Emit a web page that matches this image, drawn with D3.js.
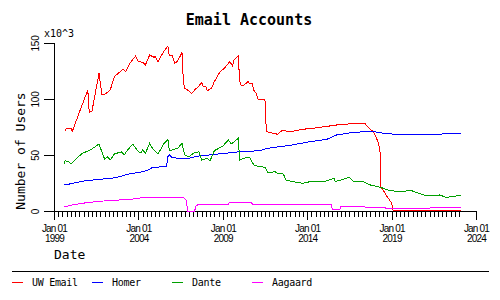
<!DOCTYPE html>
<html lang="en">
<head>
    <meta charset="UTF-8">
    <title>Email Accounts</title>
    <script src="https://d3js.org/d3.v7.min.js"></script>
    <style>
        body { margin: 0; background: #fff; }
        svg { display: block; font-family: "DejaVu Sans Mono", monospace; }
        .axis path, .axis line { stroke: #000; shape-rendering: crispEdges; }
        .series { fill: none; stroke-width: 1px; shape-rendering: crispEdges; }
    </style>
</head>
<body>
    <svg width="500" height="300"></svg>
    <script>
        // Values in thousands of users, one point per reading off the chart
        const uwEmail = [
            ["1999-09", 72], ["1999-10", 74], ["2000-01", 74], ["2000-02", 71],
            ["2000-07", 88], ["2001-01", 108], ["2001-02", 88], ["2001-04", 89],
            ["2001-09", 123], ["2001-11", 104], ["2002-01", 104], ["2002-05", 108],
            ["2002-08", 120], ["2003-02", 126.5], ["2003-04", 124.4], ["2003-07", 132],
            ["2003-11", 138.4], ["2004-01", 133.3], ["2004-04", 132.8], ["2004-06", 130.4],
            ["2004-09", 139.3], ["2004-12", 137.3], ["2005-01", 137.8], ["2005-03", 133.3],
            ["2005-07", 142.3], ["2005-10", 147.3], ["2005-11", 138.4], ["2006-01", 138.4],
            ["2006-03", 131.9], ["2006-05", 134], ["2006-08", 141.4], ["2006-09", 115],
            ["2006-10", 109.6], ["2007-01", 107.1], ["2007-03", 105], ["2007-05", 108],
            ["2007-08", 111.6], ["2007-10", 114.6], ["2007-11", 111.6], ["2008-01", 111],
            ["2008-02", 107.4], ["2008-05", 109.6], ["2008-07", 115.5], ["2008-11", 124.4],
            ["2009-02", 127.4], ["2009-06", 133.3], ["2009-08", 129.5], ["2009-09", 134.8],
            ["2009-12", 138.4], ["2010-01", 115.5], ["2010-02", 112.5], ["2010-04", 112.5],
            ["2010-07", 115.5], ["2010-08", 113.4], ["2010-10", 113.4], ["2010-11", 108],
            ["2011-01", 104.5], ["2011-02", 99.7], ["2011-07", 99.7], ["2011-08", 70.8],
            ["2012-01", 69.4], ["2012-04", 68.5], ["2012-07", 71.7], ["2012-09", 71.7],
            ["2013-01", 70.8], ["2013-10", 73], ["2014-05", 73.8], ["2014-10", 74.7],
            ["2015-05", 75.9], ["2015-10", 76.8], ["2016-05", 76.8], ["2016-07", 78.3],
            ["2016-12", 77.7], ["2017-06", 78.3], ["2017-07", 76.8], ["2017-09", 73.8],
            ["2017-12", 70.8], ["2018-02", 66], ["2018-04", 59], ["2018-05", 51.5],
            ["2018-05-10", 21.7], ["2018-07", 18.8], ["2018-09", 14.3], ["2018-12", 8.9],
            ["2019-01", 6.9], ["2019-02", 0.5], ["2023-02", 0.5]
        ];
        const homer = [
            ["1999-08", 24.1], ["1999-09", 23.2], ["2000-02", 24.7], ["2000-12", 27.1],
            ["2001-12", 28.6], ["2002-09", 29.7], ["2003-06", 33], ["2004-04", 35.1],
            ["2004-09", 37.2], ["2004-11", 39], ["2005-09", 39.6], ["2005-10", 48.5],
            ["2005-11", 50], ["2006-01", 47.6], ["2006-06", 47.1], ["2007-01", 47.1],
            ["2007-08", 49.1], ["2008-10", 50.9], ["2010-01", 52.9], ["2011-03", 53.8],
            ["2011-09", 56], ["2012-05", 57.4], ["2012-12", 58.5], ["2013-06", 59.8],
            ["2014-03", 61.9], ["2015-03", 64], ["2015-10", 67.9], ["2016-08", 69.9],
            ["2017-05", 70.8], ["2017-10", 71.4], ["2018-07", 69.4], ["2019-09", 67.9],
            ["2020-12", 67.9], ["2022-02", 68.8], ["2023-02", 69.4]
        ];
        const dante = [
            ["1999-08", 41.7], ["1999-09", 44.9], ["1999-12", 43.5], ["2000-01", 42],
            ["2000-09", 51.5], ["2001-03", 54.5], ["2001-09", 59.8], ["2002-01", 46.2],
            ["2002-03", 48.5], ["2002-05", 45.5], ["2002-08", 50.9], ["2003-01", 52.9],
            ["2003-03", 50], ["2003-05", 53.8], ["2003-09", 59.8], ["2004-01", 52.9],
            ["2004-03", 52], ["2004-04", 54.5], ["2004-06", 51.5], ["2004-09", 60.4],
            ["2004-11", 56], ["2005-03", 50.9], ["2005-07", 59.8], ["2005-10", 64],
            ["2005-11", 53.8], ["2006-01", 54.5], ["2006-05", 56], ["2006-08", 60.4],
            ["2006-10", 50], ["2007-01", 48.5], ["2007-04", 51.5], ["2007-08", 52.9],
            ["2007-10", 45.5], ["2008-02", 47.1], ["2008-04", 44.9], ["2008-07", 53.8],
            ["2009-01", 58], ["2009-05", 63.4], ["2009-07", 59.8], ["2009-10", 62.8],
            ["2009-12", 64.9], ["2010-01", 45.5], ["2010-04", 47.1], ["2010-08", 48],
            ["2010-11", 41.1], ["2011-01", 40.2], ["2011-07", 39], ["2011-09", 34.2],
            ["2012-02", 35.1], ["2012-04", 33.7], ["2012-08", 33], ["2012-10", 27.7],
            ["2013-03", 26.2], ["2013-10", 24.7], ["2014-05", 26.8], ["2015-01", 26.2],
            ["2015-08", 29.2], ["2015-09", 26.2], ["2016-07", 30.1], ["2016-10", 26.2],
            ["2017-05", 26.2], ["2017-10", 23.2], ["2018-05", 21.2], ["2018-12", 18.1],
            ["2019-09", 17.2], ["2020-02", 18.8], ["2020-07", 16.3], ["2021-02", 13.4],
            ["2021-11", 14.3], ["2022-04", 12.2], ["2023-02", 14]
        ];
        const aagaard = [
            ["1999-08", 3.9], ["1999-11", 4.5], ["2000-02", 5.4], ["2000-12", 7.4],
            ["2001-12", 8.9], ["2002-11", 9.8], ["2003-09", 10.7], ["2004-02", 11.6],
            ["2005-10", 12.2], ["2006-09", 12.2], ["2006-11", 9.8], ["2006-12", 0],
            ["2007-05", 0], ["2007-06", 4.5], ["2007-08", 6.2], ["2009-05", 6.2],
            ["2009-06", 8], ["2010-09", 8], ["2010-10", 6.2], ["2015-06", 6],
            ["2015-07", 0.9], ["2015-12", 0.9], ["2016-01", 3.9], ["2018-08", 3.3],
            ["2018-09", 2.4], ["2021-02", 2.4], ["2021-09", 3.3], ["2023-02", 3.3]
        ];

        const seriesNames = ["UW Email", "Homer", "Dante", "Aagaard"];
        const seriesColors = ["#ff0000", "#0000ff", "#00a000", "#ff00ff"];
        const seriesData = [uwEmail, homer, dante, aagaard];
        const yTicks = [0, 50, 100, 150];
        const xTickYears = ["1999", "2004", "2009", "2014", "2019", "2024"];

        const svg = d3.select("svg");

        const x = d3.scaleUtc()
            .domain([new Date("1999-01-01"), new Date("2024-01-01")])
            .range([54, 476]);
        const y = d3.scaleLinear().domain([0, 150]).range([211, 43]);

        // Title
        svg.append("text")
            .attr("x", 249).attr("y", 25)
            .attr("text-anchor", "middle")
            .attr("font-size", 15).attr("font-weight", "bold")
            .text("Email Accounts");

        // Minor ticks, one per quarter, as 1px wide rects
        const minorTicks = d3.range(1999 * 4, 2023 * 4 + 1)
            .map(q => new Date(Date.UTC(Math.floor(q / 4), (q % 4) * 3, 1)));
        svg.append("g")
            .attr("fill", "#000")
            .selectAll("rect")
            .data(minorTicks)
            .join("rect")
            .attr("x", d => Math.round(x(d)))
            .attr("y", 211)
            .attr("width", 1)
            .attr("height", 6);

        // Major ticks every five years
        const majorTicks = xTickYears.map(yr => new Date(yr + "-01-01"));
        const xAxis = svg.append("g")
            .attr("class", "axis")
            .attr("transform", "translate(0,211)")
            .call(d3.axisBottom(x).tickValues(majorTicks).tickSize(9).tickSizeOuter(0).tickFormat(""));
        xAxis.selectAll(".tick").append("text")
            .attr("fill", "#000").attr("font-size", 10)
            .attr("letter-spacing", "-0.8px")
            .attr("text-anchor", "middle")
            .attr("y", 21)
            .text("Jan 01");
        xAxis.selectAll(".tick").append("text")
            .attr("fill", "#000").attr("font-size", 10)
            .attr("letter-spacing", "-0.8px")
            .attr("text-anchor", "middle")
            .attr("y", 31)
            .text(d => d3.utcFormat("%Y")(d));

        // Y axis
        const yAxis = svg.append("g")
            .attr("class", "axis")
            .attr("transform", "translate(54,0)")
            .call(d3.axisLeft(y).tickValues(yTicks).tickSize(10).tickSizeOuter(0).tickFormat(""));
        yAxis.select(".domain").attr("d", "M0.5,43V220");
        yAxis.selectAll(".tick").append("text")
            .attr("fill", "#000").attr("font-size", 10)
            .attr("letter-spacing", "-0.3px")
            .attr("text-anchor", "middle")
            .attr("transform", "translate(-15,0) rotate(-90)")
            .text(d => d);

        svg.append("text")
            .attr("x", 44).attr("y", 37)
            .attr("font-size", 10)
            .text("x10^3");

        svg.append("text")
            .attr("transform", "translate(25,151) rotate(-90)")
            .attr("text-anchor", "middle")
            .attr("font-size", 13)
            .text("Number of Users");

        svg.append("text")
            .attr("x", 54).attr("y", 259)
            .attr("font-size", 13)
            .text("Date");

        // Lines
        const line = d3.line()
            .x(d => x(new Date(d[0])))
            .y(d => y(d[1]));

        seriesData.forEach((data, i) => {
            svg.append("path")
                .datum(data)
                .attr("class", "series")
                .attr("stroke", seriesColors[i])
                .attr("d", line);
        });

        // Legend
        svg.append("line")
            .attr("x1", 12).attr("x2", 489)
            .attr("y1", 271.5).attr("y2", 271.5)
            .attr("stroke", "#000")
            .attr("shape-rendering", "crispEdges");

        const legend = svg.selectAll(".legend")
            .data(seriesNames)
            .enter()
            .append("g")
            .attr("class", "legend")
            .attr("transform", (d, i) => `translate(${12 + i * 80},0)`);
        legend.append("line")
            .attr("x1", 0).attr("x2", 11)
            .attr("y1", 282.5).attr("y2", 282.5)
            .attr("stroke", (d, i) => seriesColors[i]);
        legend.append("text")
            .attr("x", 20).attr("y", 286)
            .attr("font-size", 10)
            .attr("letter-spacing", "-0.3px")
            .text(d => d);
    </script>
</body>
</html>
